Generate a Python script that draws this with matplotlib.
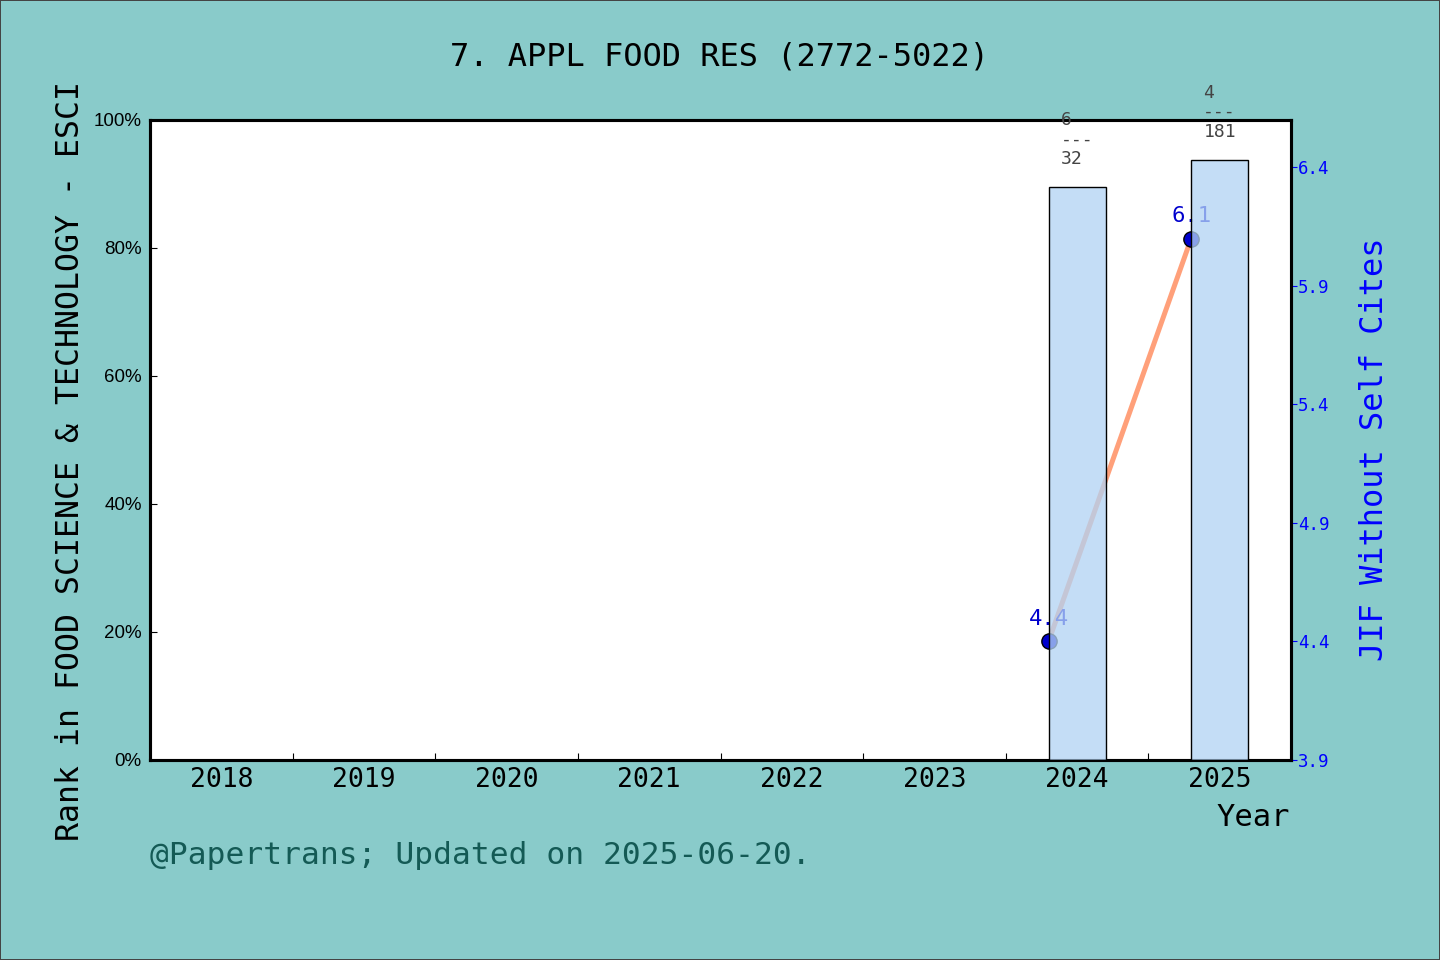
import numpy as np
import matplotlib
matplotlib.use("Agg")
import matplotlib.pyplot as plt
from matplotlib.ticker import FuncFormatter

years = [2018, 2019, 2020, 2021, 2022, 2023, 2024, 2025]
rank_pct = [np.nan, np.nan, np.nan, np.nan, np.nan, np.nan, 89.5, 93.75]
rank_num = [None, None, None, None, None, None, 6, 4]
rank_total = [None, None, None, None, None, None, 32, 181]
jif = [np.nan, np.nan, np.nan, np.nan, np.nan, np.nan, 4.4, 6.1]
jif_ticks = [3.9, 4.4, 4.9, 5.4, 5.9, 6.4]
pct_ticks = [0, 20, 40, 60, 80, 100]

title = "7. APPL FOOD RES (2772-5022)"
left_label = "Rank in FOOD SCIENCE & TECHNOLOGY - ESCI"
right_label = "JIF Without Self Cites"
footer = "@Papertrans; Updated on 2025-06-20."

MONO = "DejaVu Sans Mono"
SANS = "Liberation Sans"
BG = "#89CBCA"

fig = plt.figure(figsize=(14.4, 9.6), dpi=100, facecolor=BG, edgecolor="#444444", linewidth=1.2)
ax1 = fig.add_axes([150/1440, 1-760/960, (1291-150)/1440, (760-120)/960])
ax2 = ax1.twinx()
ax2.set_zorder(1)
ax1.set_zorder(2)
ax1.patch.set_visible(False)
ax2.patch.set_visible(True)
ax2.patch.set_facecolor("white")

x = np.arange(len(years))
off = 0.2

# bars
bars = ax1.bar(x, rank_pct, width=0.4, color=(178/255, 211/255, 244/255, 0.76),
               edgecolor="black", linewidth=1.0, zorder=3)
for xi, h, n, t in zip(x, rank_pct, rank_num, rank_total):
    if n is None or np.isnan(h):
        continue
    ax1.annotate(f"{n}\n---\n{t}", xy=(xi, h), xytext=(0, 14), textcoords="offset points",
                 ha="center", va="bottom", multialignment="left", fontsize=13,
                 family=MONO, color="#444444", linespacing=1.1, annotation_clip=False)

# line + points
xj = x - off
ax2.plot(xj, jif, color="#FFA07A", linewidth=3.6, zorder=2, solid_capstyle="round")
ax2.plot(xj, jif, linestyle="none", marker="o", markersize=11, markerfacecolor="#0000CD",
         markeredgecolor="black", markeredgewidth=1.0, zorder=3)
for xi, v in zip(xj, jif):
    if np.isnan(v):
        continue
    ax2.annotate(f"{v:.1f}", xy=(xi, v), xytext=(0, 9), textcoords="offset points",
                 ha="center", va="bottom", fontsize=16, family=MONO, color="#0000CD")

# axes limits / ticks
ax1.set_xlim(-0.5, len(years) - 0.5)
ax1.set_ylim(0, 100)
ax2.set_ylim(3.9, 6.6)

ax1.set_xticks(x)
ax1.set_xticklabels([str(y) for y in years], family=MONO, fontsize=19)
ax1.set_xticks(x[:-1] + 0.5, minor=True)
ax1.tick_params(axis="x", which="major", length=0, pad=5)
ax1.tick_params(axis="x", which="minor", direction="in", length=5, width=0.8)

ax1.set_yticks(pct_ticks)
ax1.yaxis.set_major_formatter(FuncFormatter(lambda v, p: f"{v:.0f}%"))
ax1.tick_params(axis="y", direction="in", length=5, width=0.8, labelsize=13.5, pad=6)
for lab in ax1.get_yticklabels():
    lab.set_family(SANS)

ax2.set_yticks(jif_ticks)
ax2.set_yticklabels([f"{t:.1f}" for t in jif_ticks], family=MONO, fontsize=12.5, color="#0000FF")
ax2.tick_params(axis="y", direction="out", length=4, width=0.8, color="#0000FF", pad=1)

for a in (ax1, ax2):
    for s in a.spines.values():
        s.set_linewidth(2.2)
        s.set_color("black")

ax1.set_ylabel(left_label, family=MONO, fontsize=22.7, color="black")
ax1.yaxis.set_label_coords((86-150)/1141, (760-461)/640)
ax2.set_ylabel(right_label, family=MONO, fontsize=23, color="#0000FF")
ax2.yaxis.set_label_coords((1359-150)/1141, (760-449)/640)

fig.text(720/1440, 1-57/960, title, ha="center", va="center", family=MONO, fontsize=23, color="black")
fig.text(1290/1440, 1-817/960, "Year", ha="right", va="center", family=MONO, fontsize=22, color="black")
fig.text(150/1440, 1-855/960, footer, ha="left", va="center", family=MONO, fontsize=22.5, color="#145A55")

fig.savefig("out.png", dpi=100, facecolor=BG, edgecolor=fig.get_edgecolor())
